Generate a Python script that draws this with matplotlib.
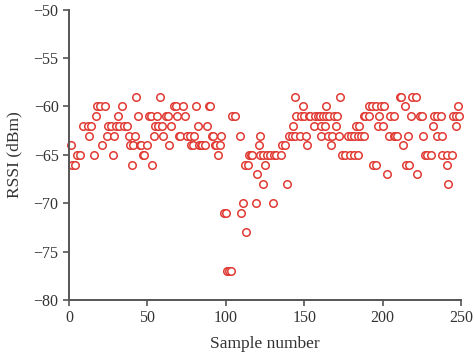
import matplotlib
matplotlib.use("Agg")
import matplotlib.pyplot as plt

plt.rcParams['font.family'] = ['Liberation Serif', 'DejaVu Serif']

# sample number / RSSI values
sample = [1, 2, 4, 5, 7, 9, 12, 13, 14, 16, 17, 18, 20, 21, 23, 24, 25, 27, 28, 29,
          30, 31, 32, 34, 35, 37, 38, 39, 40, 41, 42, 43, 44, 45, 46, 47, 48, 50, 51, 52,
          53, 54, 55, 56, 57, 58, 59, 60, 62, 63, 64, 65, 67, 68, 69, 70, 71, 73, 74, 75,
          77, 78, 79, 80, 81, 82, 83, 84, 85, 87, 88, 89, 90, 91, 92, 93, 94, 95, 96, 97,
          99, 100, 101, 102, 103, 104, 106, 109, 110, 111, 112, 113, 114, 115, 116, 117, 119, 120, 121, 122,
          122, 124, 124, 125, 126, 128, 130, 131, 132, 135, 136, 138, 139, 140, 142, 143, 144, 144, 145, 147,
          148, 149, 150, 151, 152, 153, 154, 156, 157, 159, 160, 161, 161, 162, 163, 164, 164, 165, 166, 167,
          168, 169, 170, 171, 172, 173, 174, 176, 178, 179, 180, 182, 182, 183, 184, 184, 185, 186, 188, 188,
          189, 191, 191, 193, 194, 196, 196, 197, 198, 199, 200, 201, 203, 204, 205, 207, 207, 208, 209, 211,
          212, 213, 214, 215, 216, 217, 218, 219, 221, 222, 224, 225, 226, 227, 228, 231, 232, 233, 235, 235,
          237, 238, 238, 241, 241, 242, 244, 245, 247, 247, 248, 249]
rssi = [-64, -66, -66, -65, -65, -62, -62, -63, -62, -65, -61, -60, -60, -64, -60, -63, -62, -62, -65, -63,
        -62, -61, -62, -60, -62, -62, -63, -64, -66, -64, -63, -59, -61, -64, -64, -65, -65, -64, -61, -61,
        -66, -63, -62, -61, -62, -59, -62, -63, -61, -61, -64, -62, -60, -60, -61, -63, -63, -60, -61, -63,
        -63, -64, -64, -63, -60, -62, -64, -64, -64, -64, -62, -60, -60, -63, -63, -64, -64, -65, -64, -63,
        -71, -71, -77, -77, -77, -61, -61, -63, -71, -70, -66, -73, -66, -65, -65, -65, -70, -67, -64, -63,
        -65, -65, -68, -66, -65, -65, -70, -65, -65, -65, -64, -64, -68, -63, -63, -62, -63, -59, -61, -63,
        -61, -60, -61, -63, -64, -61, -61, -62, -61, -61, -61, -63, -62, -61, -62, -60, -61, -63, -61, -64,
        -63, -61, -62, -61, -63, -59, -65, -65, -63, -65, -63, -65, -63, -62, -63, -65, -62, -63, -61, -63,
        -61, -61, -60, -60, -66, -66, -60, -62, -61, -60, -62, -60, -67, -63, -61, -61, -63, -63, -63, -59,
        -59, -64, -60, -66, -63, -66, -61, -59, -59, -67, -61, -61, -63, -65, -65, -65, -62, -61, -61, -63,
        -61, -63, -65, -65, -66, -68, -65, -61, -61, -62, -60, -61]

fig = plt.figure(figsize=(4.74, 3.57), dpi=100)
ax = fig.add_axes([0.1456, 0.1597, 0.827, 0.813])

ax.plot(sample, rssi, linestyle='none', marker='o', markersize=5.4,
        markerfacecolor='white', markeredgecolor='#e03a33', markeredgewidth=1.1,
        clip_on=False)

ax.set_xlim(0, 250)
ax.set_ylim(-80, -50)
ax.set_xticks([0, 50, 100, 150, 200, 250])
ax.set_yticks([-80, -75, -70, -65, -60, -55, -50])

for s in ['top', 'right']:
    ax.spines[s].set_visible(False)
for s in ['left', 'bottom']:
    ax.spines[s].set_color('#555555')
    ax.spines[s].set_linewidth(1.4)

ax.tick_params(direction='out', length=4, width=1.2, colors='#555555',
               labelcolor='#333333', labelsize=11.5)

ax.set_xlabel('Sample number', fontsize=12.5, color='#333333', labelpad=7)
ax.set_ylabel('RSSI (dBm)', fontsize=12.5, color='#333333', labelpad=8)

fig.savefig('out.png', dpi=100)
